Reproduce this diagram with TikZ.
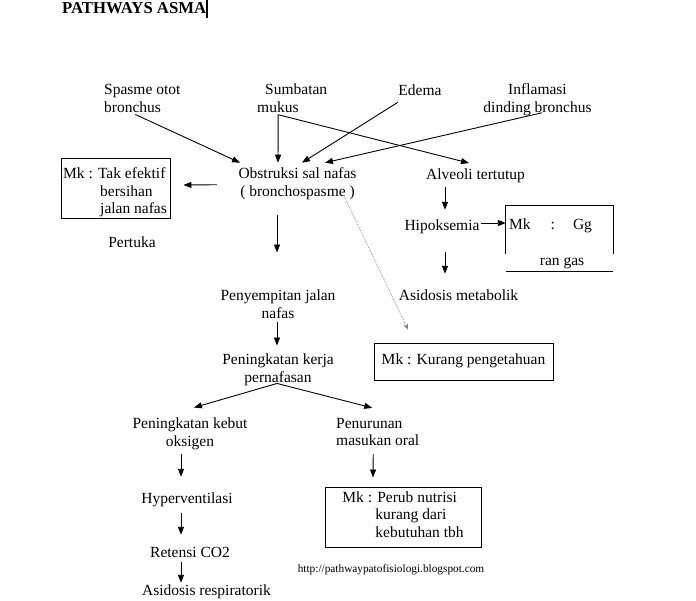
\documentclass[tikz,border=0pt]{standalone}
\usepackage{fontspec}
\setmainfont{Liberation Serif}
\usetikzlibrary{arrows.meta,calc}
\newcommand\dfont{\fontsize{15.5}{17.5}\selectfont}
\newcommand\tfont{\fontsize{16.7}{18}\selectfont}
\newcommand\ufont{\fontsize{11.3}{13}\selectfont}
\begin{document}
\begin{tikzpicture}[x=1pt,y=-1pt,
  txt/.style={inner sep=0pt, font=\dfont, execute at begin node=\strut, execute at end node=\strut},
  arr/.style={line width=0.9pt, -{Triangle[length=8pt,width=6pt]}},
  boxed/.style={draw, line width=0.9pt},
  dotarrow/.style={densely dotted, gray, line width=0.7pt, -{Stealth[length=6pt,width=5pt]}}]
\fill[white] (0,0) rectangle (696,601);
\useasboundingbox (0,0) rectangle (696,601);

% title and cursor
\node[txt, anchor=west, font=\tfont\bfseries] (title) at (62,10) {PATHWAYS ASMA};
\draw[line width=1.6pt] (207,0) -- (207,18);

% causes
\node[txt, anchor=west, align=left] (spasme) at (104,100.75) {Spasme otot\\bronchus};
\node[txt, anchor=west, align=left] (sumbatan) at (257,100.75) {\hspace*{8pt}Sumbatan\\mukus};
\node[txt] (edema) at (420,92) {Edema};
\node[txt, align=center] (inflamasi) at (537.5,100.75) {Inflamasi\\dinding bronchus};

% obstruction
\node[txt, align=center] (obs) at (297.5,184.75) {Obstruksi sal nafas\\( bronchospasme )};
\node[boxed, minimum width=109pt, minimum height=60pt, inner sep=0pt] (mk1frame) at (115.5,188) {};
\node[txt, anchor=west, align=left] (mk1) at (63,193.5) {Mk : Tak efektif\\\hspace*{37pt}bersihan\\\hspace*{37pt}jalan nafas};
\node[txt] (pertuka) at (132,244) {Pertuka};

% right branch
\node[txt] (alveoli) at (475.5,176) {Alveoli tertutup};
\node[txt] (hipo) at (442,227) {Hipoksemia};
\node[minimum width=107pt, minimum height=48pt, inner sep=0pt] (ggframe) at (559.5,230) {};
\draw[line width=0.9pt] (ggframe.south west) -- (ggframe.north west) -- (ggframe.north east) -- (ggframe.south east);
\draw[line width=0.9pt] ($(ggframe.south west)+(0,17)$) -- ($(ggframe.south east)+(0,17)$);
\node[txt, anchor=west] (ggtxt) at (509,226) {Mk\hspace*{20pt}:\hspace*{18pt}Gg};
\node[txt] (rangas) at (562,262) {ran gas};
\node[txt] (asimet) at (458.5,297) {Asidosis metabolik};
\node[boxed, txt, minimum width=179pt, minimum height=37pt] (kurang) at (463.5,361.5) {Mk : Kurang pengetahuan};

% middle column
\node[txt, align=center] (penyempitan) at (278,306.75) {Penyempitan jalan\\nafas};
\node[txt, align=center] (kerja) at (278,370.75) {Peningkatan kerja\\pernafasan};
\node[txt, align=center] (kebut) at (190,434.75) {Peningkatan kebut\\oksigen};
\node[txt, anchor=west, align=left] (penurunan) at (336,434.75) {Penurunan\\masukan oral};
\node[txt] (hyper) at (187,500) {Hyperventilasi};
\node[txt] (retensi) at (190,554) {Retensi CO2};
\node[txt] (asires) at (206.5,592) {Asidosis respiratorik};
\node[boxed, txt, align=left, minimum width=156pt, minimum height=60pt] (perub) at (403,517) {Mk : Perub nutrisi\\\hspace*{33pt}kurang dari\\\hspace*{33pt}kebutuhan tbh};
\node[txt, font=\ufont] (url) at (391,570) {http://pathwaypatofisiologi.blogspot.com};

% connectors
\draw[arr] ($(spasme.south)+(-7,-3)$) -- ($(obs.north)+(-57.5,-5)$);
\draw[arr] ($(sumbatan.south)+(-14,-3)$) -- ($(obs.north)+(-19.5,-5)$);
\draw[arr] ($(sumbatan.south)+(-14,-3)$) -- ($(alveoli.north)+(-6.5,-4)$);
\draw[arr] ($(edema.south)+(-22,1.25)$) -- ($(obs.north)+(4.5,-5)$);
\draw[arr] ($(inflamasi.south)+(4.5,-5)$) -- ($(obs.north)+(27.5,-5)$);
\draw[arr] ($(obs.west)+(-21.5,0)$) -- ($(mk1frame.east)+(13,-3)$);
\draw[arr] ($(obs.south)+(-20.5,12.75)$) -- ($(penyempitan.north)+(-1,-37.25)$);
\draw[dotarrow] ($(obs.center)+(44.5,7.25)$) -- ($(kurang.north)+(-55.5,-13)$);
\draw[arr] ($(alveoli.south)+(-30.5,2.25)$) -- ($(hipo.north)+(3,-8.25)$);
\draw[arr] ($(hipo.east)+(1.5,-4)$) -- ($(ggframe.west)+(0,-7)$);
\draw[arr] ($(hipo.south)+(3,16.25)$) -- ($(asimet.north)+(-13.5,-14.25)$);
\draw[arr] ($(penyempitan.south)+(-1,-1.25)$) -- ($(kerja.north)+(-1,-8.25)$);
\draw[arr] ($(kerja.south)+(-1,-4.25)$) -- ($(kebut.north)+(4,-10.25)$);
\draw[arr] ($(kerja.south)+(-1,-4.25)$) -- ($(penurunan.north)+(-5.5,-10.25)$);
\draw[arr] ($(kebut.south)+(-9,2.75)$) -- ($(hyper.north)+(-6,-14.25)$);
\draw[arr] ($(hyper.south)+(-6,4.25)$) -- ($(retensi.north)+(-9,-10.25)$);
\draw[arr] ($(retensi.south)+(-9,-0.75)$) -- ($(asires.north)+(-25.5,-0.25)$);
\draw[arr] ($(penurunan.south)+(-4.5,2.75)$) -- ($(perub.north)+(-30,-9)$);
\end{tikzpicture}
\end{document}
